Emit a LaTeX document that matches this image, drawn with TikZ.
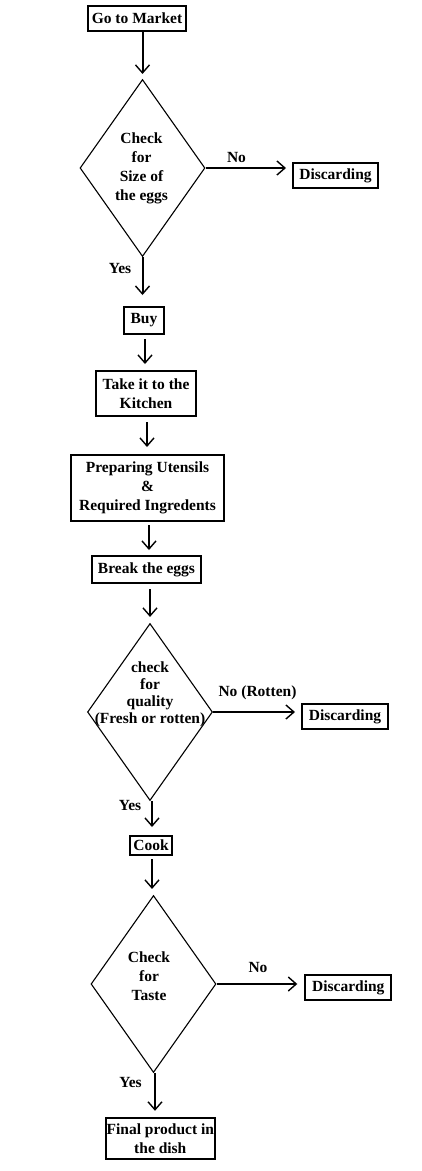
\documentclass[tikz,border=0pt]{standalone}
\usepackage{fontspec}
\setmainfont{Liberation Serif}
\usepackage{tikz}
\usetikzlibrary{positioning,arrows.meta,shapes.geometric}

\begin{document}
\begin{tikzpicture}[x=1pt,y=-1pt,
	every node/.style={font=\bfseries\fontsize{15.5}{19}\selectfont,align=center,inner sep=0pt},
	box/.style={draw=black,line width=2pt},
	decision/.style={diamond,draw=black,line width=1.1pt,minimum width=125pt,minimum height=177pt},
	arr/.style={line width=2pt,-{Straight Barb[length=8pt,width=14pt,line width=1.4pt]},shorten >=6pt}]

		\useasboundingbox (0,0) rectangle (421,1171);

		%boxes
		\node[box,minimum width=98pt,minimum height=25pt] (market) at (137,18.5) {Go to Market};
		\node[box,minimum width=40pt,minimum height=27pt] (buy) at (144,320.5) {Buy};
		\node[box,minimum width=100pt,minimum height=45pt] (kitchen) at (146,393.5) {Take it to the\\Kitchen};
		\node[box,minimum width=153pt,minimum height=66pt] (prep) at (147.5,488) {Preparing Utensils\\\&\\Required Ingredents};
		\node[box,minimum width=109pt,minimum height=27pt] (break) at (146.5,569.5) {Break the eggs};
		\node[box,minimum width=42pt,minimum height=19pt] (cook) at (151,845.5) {Cook};
		\node[box,minimum width=109pt,minimum height=41pt] (final) at (160.3,1138.3) {Final product in\\the dish};

		%discard boxes
		\node[box,minimum width=85pt,minimum height=25pt] (disc1) at (335.5,175.5) {Discarding};
		\node[box,minimum width=86pt,minimum height=25pt] (disc2) at (345,716.5) {Discarding};
		\node[box,minimum width=86pt,minimum height=25pt] (disc3) at (348.3,987.5) {Discarding};

		%decisions
		\node[decision] (chk1) at (142.5,168) {};
		\node (chk1txt) at (141.5,168) {Check\\for\\Size of\\the eggs};
		\node[decision] (chk2) at (150,712) {};
		\node[font=\bfseries\fontsize{15.5}{17}\selectfont] (chk2txt) at (150,694) {check\\for\\quality\\(Fresh or rotten)};
		\node[decision] (chk3) at (153.5,984) {};
		\node (chk3txt) at (149,976) {Check\\for\\Taste};

		%labels
		\node (no1) at (236.5,157) {No};
		\node (yes1) at (120,268) {Yes};
		\node (no2) at (257.5,693) {No (Rotten)};
		\node (yes2) at (130,805) {Yes};
		\node (no3) at (258,967.5) {No};
		\node (yes3) at (130.5,1082.5) {Yes};

		%edges
		\draw[arr,shorten >=5pt] (market.south -| chk1.north) -- (chk1.north);
		\draw[arr] (chk1.east) -- (chk1.east -| disc1.west);
		\draw[arr,shorten >=11pt] (chk1.south) -- (chk1.south |- buy.north);
		\draw[arr,shorten <=4pt] (buy.south -| 145,0) -- (kitchen.north -| 145,0);
		\draw[arr,shorten <=5pt,shorten >=7pt] (kitchen.south -| 147,0) -- (prep.north -| 147,0);
		\draw[arr,shorten <=3pt,shorten >=5pt] (prep.south -| 149,0) -- (break.north -| 149,0);
		\draw[arr,shorten <=5pt] (break.south -| chk2.north) -- (chk2.north);
		\draw[arr] (chk2.east) -- (chk2.east -| disc2.west);
		\draw[arr,shorten >=8pt] (chk2.south -| 152,0) -- (cook.north -| 152,0);
		\draw[arr,shorten <=3pt] (cook.south -| 152,0) -- (chk3.north -| 152,0);
		\draw[arr,shorten >=7pt] (chk3.east) -- (chk3.east -| disc3.west);
		\draw[arr] (chk3.south -| 155,0) -- (final.north -| 155,0);

\end{tikzpicture}
\end{document}
